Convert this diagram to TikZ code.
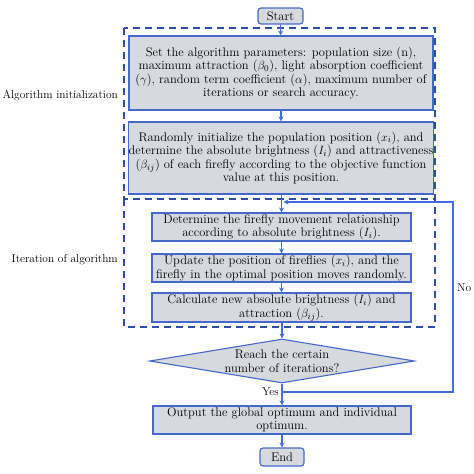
\documentclass[tikz,border=0pt]{standalone}
\usetikzlibrary{shapes.geometric,arrows.meta}
\definecolor{boxblue}{RGB}{70,104,204}
\definecolor{dashblue}{RGB}{44,78,168}
\definecolor{arrowblue}{RGB}{66,110,220}
\definecolor{boxfill}{RGB}{214,217,222}
\begin{document}
\begin{tikzpicture}[x=1pt,y=-1pt,
  procbox/.style={draw=boxblue,fill=boxfill,line width=1.1pt,inner sep=0pt,align=center,
    font=\fontsize{12.5}{13.6}\selectfont},
  termbox/.style={draw=boxblue,fill=boxfill,line width=1.1pt,rounded corners=3pt,inner sep=0pt,
    font=\fontsize{12.5}{13.6}\selectfont},
  dashbox/.style={draw=dashblue,line width=1.3pt,dash pattern=on 7pt off 5pt},
  flow/.style={draw=arrowblue,line width=1.1pt,-{Stealth[length=5pt,width=5pt]}},
  side/.style={font=\fontsize{11.4}{13.6}\selectfont,inner sep=0pt}]
\useasboundingbox (0,0) rectangle (474,474);
% dashed groups
\draw[dashbox] (124,28) rectangle (435,199);
\draw[dashbox] (124,199) -- (124,327) -- (435,327) -- (435,199);
% nodes
\node[termbox,minimum width=45pt,minimum height=16pt] (start) at (280.5,16) {Start};
\node[procbox,minimum width=304pt,minimum height=74pt] (b1) at (281,73)
  {Set the algorithm parameters: population size (n),\\
   maximum attraction ($\beta_0$), light absorption coefficient\\
   ($\gamma$), random term coefficient ($\alpha$), maximum number of\\
   iterations or search accuracy.};
\node[procbox,minimum width=304pt,minimum height=72pt] (b2) at (281,158)
  {Randomly initialize the population position ($x_i$), and\\
   determine the absolute brightness ($I_i$) and attractiveness\\
   ($\beta_{ij}$) of each firefly according to the objective function\\
   value at this position.};
\node[procbox,minimum width=259pt,minimum height=28pt] (b3) at (281.5,227)
  {Determine the firefly movement relationship\\
   according to absolute brightness ($I_i$).};
\node[procbox,minimum width=259pt,minimum height=28pt] (b4) at (281.5,268)
  {Update the position of fireflies ($x_i$), and the\\
   firefly in the optimal position moves randomly.};
\node[procbox,minimum width=259pt,minimum height=29pt] (b5) at (281.5,307.5)
  {Calculate new absolute brightness ($I_i$) and\\
   attraction ($\beta_{ij}$).};
\node[procbox,diamond,shape aspect=6,minimum width=265pt,minimum height=44pt] (dec) at (282,361)
  {Reach the certain\\ number of iterations?};
\node[procbox,minimum width=258pt,minimum height=28pt] (b6) at (282,420)
  {Output the global optimum and individual\\ optimum.};
\node[termbox,minimum width=44pt,minimum height=18pt] (end) at (282,457) {End};
% side labels
\node[side,anchor=east] (l1) at (118,96) {Algorithm initialization};
\node[side,anchor=east] (l2) at (118,260) {Iteration of algorithm};
\node[side,anchor=east] (yes) at (279,392) {Yes};
\node[side,anchor=west] (no) at (457,288) {No};
% connectors
\draw[flow] (start) -- (b1);
\draw[flow] (b1) -- (b2);
\draw[flow] (b2.south -| b3.north) -- (b3);
\draw[flow] (b3) -- (b4);
\draw[flow] (b4) -- (b5);
\draw[flow] (b5.south -| dec.north) -- (dec);
\draw[flow] (dec) -- (b6);
\draw[flow] (b6.south -| end.north) -- (end);
\coordinate (split) at (282,392);
\coordinate (rb) at (453,392);
\coordinate (rt) at (453,202);
\coordinate (join) at (283.5,202);
\draw[flow] (split) -- (rb) -- (rt) -- (join);
\end{tikzpicture}
\end{document}
